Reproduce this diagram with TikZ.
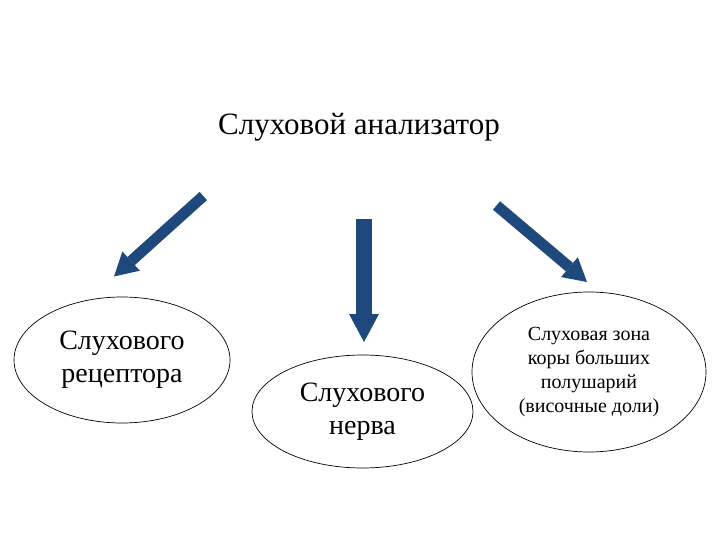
\documentclass[tikz,border=0pt]{standalone}
\usepackage{fontspec}
\setmainfont{Liberation Serif}
\usetikzlibrary{arrows.meta,shapes.geometric}
\definecolor{arrowblue}{RGB}{31,73,125}
\begin{document}
\begin{tikzpicture}[x=1pt,y=-1pt,
  oval/.style={ellipse,draw=black,line width=0.7pt,inner sep=0pt,align=center},
  bigfont/.style={font=\fontsize{28}{33}\selectfont},
  smallfont/.style={font=\fontsize{20}{24}\selectfont},
  diagarrow/.style={draw=arrowblue,line width=11pt,-{Triangle[width=26pt,length=23pt,line width=0pt]}},
  vertarrow/.style={draw=arrowblue,line width=16pt,-{Triangle[width=30pt,length=28pt,line width=0pt]}}
]
\useasboundingbox (0,0) rectangle (720,540);
\fill[white] (0,0) rectangle (720,540);

\node[font=\fontsize{31}{37}\selectfont,anchor=base] (title) at (359,135) {Слуховой анализатор};

\node[oval,bigfont,minimum width=216pt,minimum height=126pt] (receptor) at (122,360) {Слухового\\рецептора};
\node[oval,bigfont,minimum width=221pt,minimum height=113pt] (nerve) at (362.5,411.5) {Слухового\\нерва};
\node[oval,smallfont,minimum width=234pt,minimum height=160pt] (cortex) at (589,372) {Слуховая зона\\коры больших\\полушарий\\(височные доли)};

\coordinate (lt) at (203.3,196);
\coordinate (lh) at (114,276.5);
\coordinate (mt) at (364,219);
\coordinate (mh) at (364,342);
\coordinate (rt) at (496.5,205.5);
\coordinate (rh) at (587,282);

\draw[diagarrow] (lt) -- (lh);
\draw[vertarrow] (mt) -- (mh);
\draw[diagarrow] (rt) -- (rh);
\end{tikzpicture}
\end{document}
